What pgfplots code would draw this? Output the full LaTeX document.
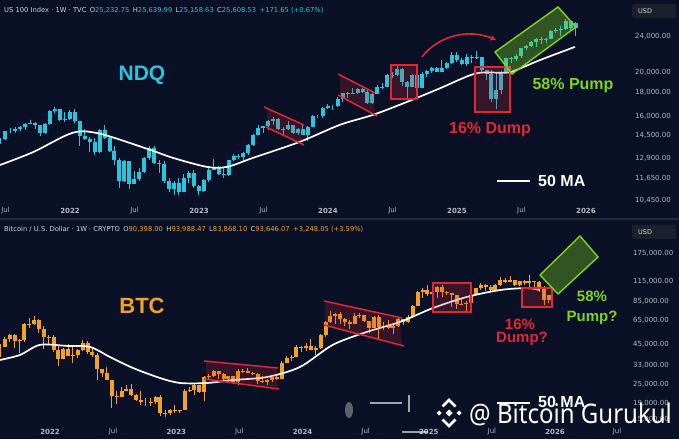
\documentclass[border=0pt]{standalone}
\usepackage{fontspec}
\setmainfont{DejaVu Sans}
\newfontfamily\arial{Liberation Sans}
\newfontfamily\noto{Noto Sans}
\usepackage{pgfplots}
\usepackage{pgfplotstable}
\pgfplotsset{compat=1.18}
\usetikzlibrary{arrows.meta}

\definecolor{bg}{RGB}{10,17,38}
\definecolor{ndq}{RGB}{44,196,218}
\definecolor{btc}{RGB}{242,162,38}
\definecolor{redc}{RGB}{224,40,52}
\definecolor{greenc}{RGB}{126,211,33}
\definecolor{hdr}{RGB}{209,212,220}
\definecolor{tickc}{RGB}{180,184,194}
\definecolor{sepc}{RGB}{40,44,58}
\definecolor{usdbg}{RGB}{28,32,44}

% NDX biweekly candles from Jun 2021: close, high, low
\pgfplotstableread{
c h l
14200 14300 13900
14800 14850 14150
14800 15050 14700
14960 15100 14650
15100 15200 14850
15380 15420 14900
15450 15700 15350
15240 15500 14950
14650 15250 14450
15350 15450 14600
16400 16450 15300
16570 16760 16200
15700 16600 15550
15750 16300 15500
16320 16500 15700
15600 16600 15400
14440 15600 13750
14250 15000 14150
14000 14400 13300
13300 14300 13100
14900 15000 13250
14300 15250 14200
13400 14400 13300
12800 13700 12450
11500 12950 11100
12700 12800 11450
11300 12700 11050
11600 12100 11300
12050 12250 11500
12950 13000 12000
13600 13700 12800
12600 13700 12550
12550 12800 11950
11500 12700 11400
11050 11700 10850
11400 11500 10700
10850 11700 10700
11680 11900 10850
12000 12100 11400
11200 12150 11100
10940 11250 10700
11540 11600 10850
12170 12250 11450
12300 12880 12150
11930 12400 11850
11830 12300 11700
12770 12800 11800
13060 13200 12700
12960 13200 12850
13240 13300 12750
13820 13900 13100
14550 14600 13750
15080 15280 14500
15180 15200 14700
15570 15700 14900
15750 15900 15300
15000 15800 14900
14940 15100 14550
15280 15550 14900
14700 15300 14600
15000 15050 14550
14540 15300 14500
15150 15200 14050
15990 16050 15100
15990 16100 15850
16620 16700 15850
16830 16970 16600
16830 16900 16500
17420 17600 16700
17960 18000 17200
17940 18100 17500
17960 18400 17900
18340 18460 17850
18100 18450 17950
17040 18300 16970
17890 17950 16950
18550 18700 17850
18540 18900 18300
19650 19750 18500
19680 20000 19400
20330 20700 19600
19020 20400 18600
18510 19100 17500
19720 19800 18500
18420 19900 18350
19800 19950 18400
20090 20200 19500
20360 20550 19900
20030 20550 19950
20390 21200 19950
20930 21000 20300
21780 22100 20800
21200 22150 21000
20850 21450 20700
21600 21900 20600
21490 21800 20900
21610 22230 21300
20200 21600 19900
19750 20200 19150
17400 20150 17200
18260 19900 16540
19990 20050 17900
21430 21500 19900
21340 21600 20900
21630 21850 21100
22530 22600 21500
22780 22900 22400
23270 23400 22700
23600 23700 22700
23500 23900 23000
23650 23800 23150
24630 24700 23600
24790 25000 24400
24820 25200 24000
25860 26180 24700
25010 26000 24700
25600 25700 24000
}\ndqdata

% BTC biweekly candles from Aug 2021: close, high, low
\pgfplotstableread{
c h l
43800 45300 37400
49300 50500 43800
51750 52900 46500
47300 52900 43000
48200 49200 39600
61500 62000 47000
61300 67000 58000
65000 69000 60000
57200 66000 53300
50100 59000 42000
50800 52000 45600
41800 51900 40600
36300 44000 33000
42400 42600 36200
38300 45800 38000
38400 45000 34300
41300 42300 37200
46400 48200 41000
40400 47400 39200
38500 42900 37600
31300 39900 26700
29400 31300 28000
26600 32400 26500
21000 26600 17600
20800 22500 18800
22600 24200 20800
23200 24600 22500
21500 25200 20900
19800 21800 19600
19400 22700 18500
19400 20300 18100
19200 20400 18200
20600 21000 18700
16300 21400 15600
16450 17200 15500
17100 17400 15900
16850 18400 16400
17130 17200 16300
22700 23300 17100
22900 24200 22300
24600 25200 21400
22400 24600 22000
28000 28500 19600
28200 29200 26600
30300 31000 27800
29200 30100 27000
26900 29800 25800
28100 28400 25900
25900 28200 25300
30500 31400 24900
30300 31500 29500
29800 31800 29600
29000 30200 28600
26100 29700 25200
25800 28100 25400
26500 26900 24900
27900 28000 26000
27100 28600 26600
34500 35200 26900
37100 37900 34100
37400 38400 35600
43800 44500 37400
43000 44000 40600
43900 45900 40800
41600 49000 41400
42600 43900 38500
51800 52800 42300
63100 64000 50600
68400 73800 62000
71300 71800 60800
65700 72700 61000
63100 67200 59600
61500 65000 56500
69300 71900 60700
69600 71900 66600
64200 70000 63400
58000 63800 53500
68200 68400 57600
58200 70000 49000
59500 62600 56200
57300 65000 57100
59200 60600 52600
65600 66500 58800
62900 66000 59800
67900 69500 62000
80400 81500 66800
97900 99600 80200
101100 104000 90500
95000 108300 92200
98400 99000 91800
106200 106600 89300
97600 109600 91200
96100 100000 94000
94300 95000 78200
82600 92800 76600
82500 88700 81500
83700 85900 74500
93800 95700 83100
104000 104900 93400
109000 111900 100800
105700 110500 100400
100900 108900 98200
109200 110500 100500
117900 123200 107000
114200 120000 112000
117500 124500 114000
108200 117600 107300
115300 116000 107300
112100 117900 108600
115200 126200 102000
114500 116400 103500
104700 116000 98900
86800 107500 80600
93600 94000 83800
}\btcdata

% open = previous close
\pgfplotstablecreatecol[create col/assign/.code={%
  \ifnum\pgfplotstablerow=0 \getthisrow{c}\tmpo\else\getprevrow{c}\tmpo\fi
  \pgfkeyslet{/pgfplots/table/create col/next content}\tmpo}]{o}{\ndqdata}
\pgfplotstablecreatecol[create col/assign/.code={%
  \ifnum\pgfplotstablerow=0 \getthisrow{c}\tmpo\else\getprevrow{c}\tmpo\fi
  \pgfkeyslet{/pgfplots/table/create col/next content}\tmpo}]{o}{\btcdata}

\begin{document}
\begin{tikzpicture}
\fill[bg] (0,0) rectangle (679pt,439pt);

% ---------- NDQ panel ----------
\begin{axis}[at={(0pt,236pt)}, anchor=south west,
  width=600pt, height=203pt, scale only axis, ymode=log,
  axis line style={draw=none}, tick style={draw=none},
  xmin=2021.457, xmax=2026.109, ymin=10285, ymax=28800,
  xtick={2021.5,2022,2022.5,2023,2023.5,2024,2024.5,2025,2025.5,2026},
  xticklabels={Jul,\textbf{2022},Jul,\textbf{2023},Jul,\textbf{2024},Jul,\textbf{2025},Jul,\textbf{2026}},
  xticklabel style={font=\fontsize{7}{8}\selectfont, text=tickc, anchor=center, yshift=-8pt},
  ytick={10450,11650,12900,14500,16000,18000,20000,24000},
  yticklabels={{10,450.00},{11,650.00},{12,900.00},{14,500.00},{16,000.00},{18,000.00},{20,000.00},{24,000.00}},
  yticklabel pos=right,
  yticklabel style={font=\fontsize{7}{8}\selectfont, text=tickc, anchor=west, inner sep=0pt, xshift=35pt},
]
\addplot[draw=none, mark=none, forget plot,
  error bars/.cd, y dir=plus, y explicit, error mark=none,
  error bar style={draw=ndq, line width=1pt}]
  table[x expr=2021.46+\coordindex/26, y=l, y error plus expr=\thisrow{h}-\thisrow{l}] {\ndqdata};
\addplot[draw=none, mark=none, forget plot,
  error bars/.cd, y dir=plus, y explicit, error mark=none,
  error bar style={draw=ndq, line width=4pt}]
  table[x expr=2021.46+\coordindex/26, y expr={min(\thisrow{o},\thisrow{c})}, y error plus expr={abs(\thisrow{c}-\thisrow{o})}] {\ndqdata};
\addplot[white, line width=1.7pt, smooth] coordinates {
(2021.457,12470) (2021.713,13310) (2022.023,14690) (2022.233,14610)
(2022.597,13540) (2022.798,12930) (2023.062,12350) (2023.217,12350)
(2023.419,12930) (2023.783,14030) (2024.093,15290) (2024.349,16080)
(2024.612,17170) (2024.868,18400) (2025.14,19820) (2025.333,19920)
(2025.426,20020) (2025.643,21230) (2025.915,22700)};
\end{axis}

% ---------- BTC panel ----------
\begin{axis}[at={(0pt,14pt)}, anchor=south west,
  width=600pt, height=203pt, scale only axis, ymode=log,
  axis line style={draw=none}, tick style={draw=none},
  xmin=2021.604, xmax=2026.356, ymin=13700, ymax=277000,
  xtick={2022,2022.5,2023,2023.5,2024,2024.5,2025,2025.5,2026},
  xticklabels={\textbf{2022},Jul,\textbf{2023},Jul,\textbf{2024},Jul,\textbf{2025},Jul,\textbf{2026}},
  xticklabel style={font=\fontsize{7}{8}\selectfont, text=tickc, anchor=center, yshift=-7pt},
  ytick={15000,19000,25000,33000,45000,65000,85000,115000,175000},
  yticklabels={{15,000.00},{19,000.00},{25,000.00},{33,000.00},{45,000.00},{65,000.00},{85,000.00},{115,000.00},{175,000.00}},
  yticklabel pos=right,
  yticklabel style={font=\fontsize{7}{8}\selectfont, text=tickc, anchor=west, inner sep=0pt, xshift=33pt},
]
\addplot[draw=none, mark=none, forget plot,
  error bars/.cd, y dir=plus, y explicit, error mark=none,
  error bar style={draw=btc, line width=1pt}]
  table[x expr=2021.605+\coordindex/26, y=l, y error plus expr=\thisrow{h}-\thisrow{l}] {\btcdata};
\addplot[draw=none, mark=none, forget plot,
  error bars/.cd, y dir=plus, y explicit, error mark=none,
  error bar style={draw=btc, line width=4pt}]
  table[x expr=2021.605+\coordindex/26, y expr={min(\thisrow{o},\thisrow{c})}, y error plus expr={abs(\thisrow{c}-\thisrow{o})}] {\btcdata};
\addplot[white, line width=1.7pt, smooth] coordinates {
(2021.604,35900) (2021.762,38650) (2021.921,44900) (2022.135,44200)
(2022.317,43500) (2022.475,37500) (2022.657,31880) (2022.871,27480)
(2023.03,25520) (2023.244,25520) (2023.45,26680) (2023.719,27880)
(2023.98,32360) (2024.24,44900) (2024.51,54400) (2024.772,63070)
(2025.034,77500) (2025.30,91200) (2025.564,101100) (2025.778,104100)
(2025.88,101100)};
\end{axis}

% ---------- annotations (pixel coordinates, y downwards) ----------
\begin{scope}[yshift=439pt, x=1pt, y=-1pt]
\fill[sepc] (0,218.5) rectangle (679,220.5);

\node[anchor=west, inner sep=0pt, font=\fontsize{6.75}{7}\selectfont, text=hdr] at (4,10)
 {US 100 Index · 1W · TVC\enspace O\textcolor{ndq}{25,232.75}\enspace H\textcolor{ndq}{25,639.99}\enspace L\textcolor{ndq}{25,158.63}\enspace C\textcolor{ndq}{25,608.53}\enspace\textcolor{ndq}{+171.65 (+0.67\%)}};
\node[anchor=west, inner sep=0pt, font=\fontsize{6.75}{7}\selectfont, text=hdr] at (4,229)
 {Bitcoin / U.S. Dollar · 1W · CRYPTO\enspace O\textcolor{btc}{90,398.00}\enspace H\textcolor{btc}{93,988.47}\enspace L\textcolor{btc}{83,868.10}\enspace C\textcolor{btc}{93,646.07}\enspace\textcolor{btc}{+3,248.05 (+3.59\%)}};

\fill[usdbg, rounded corners=1.5pt] (632,4) rectangle (676,18);
\node[anchor=west, inner sep=0pt, font=\fontsize{6.5}{7}\selectfont, text=hdr] at (638,11) {USD};
\fill[usdbg, rounded corners=1.5pt] (632,225) rectangle (676,239);
\node[anchor=west, inner sep=0pt, font=\fontsize{6.5}{7}\selectfont, text=hdr] at (638,232) {USD};
\node[font=\fontsize{7}{8}\selectfont, text=tickc] at (617,432) {Jul};

\node[font=\arial\bfseries\fontsize{21}{24}\selectfont, text=ndq] at (142,75) {NDQ};
\node[font=\arial\bfseries\fontsize{22}{24}\selectfont, text=btc] at (142,306) {BTC};

% top: red channels and boxes
\fill[redc, opacity=0.2] (267,109)--(303,125)--(303,145)--(267,128)--cycle;
\draw[redc, line width=1.5pt] (264,107)--(304,125) (266,127)--(304,145);
\fill[redc, opacity=0.2] (340,76)--(374,92)--(375,114)--(340,96)--cycle;
\draw[redc, line width=1.5pt] (338,74)--(375,93) (338,95)--(377,116);
\filldraw[draw=redc, fill=redc, fill opacity=0.22, line width=1.3pt] (391,65) rectangle (417,99);
\filldraw[draw=redc, fill=redc, fill opacity=0.22, line width=1.3pt] (475,67) rectangle (510,112);
\draw[redc, line width=1.6pt, -{Stealth[length=6pt,width=6pt]}] (422,57) .. controls (438,36) and (468,28) .. (496,40);
\filldraw[draw=greenc, fill=greenc, fill opacity=0.35, line width=1.4pt] (495,52)--(558,7)--(576,27)--(512,74)--cycle;
\node[font=\arial\bfseries\fontsize{16}{18}\selectfont, text=greenc] at (573,86) {58\% Pump};
\node[font=\arial\bfseries\fontsize{16}{18}\selectfont, text=redc] at (490,130) {16\% Dump};
\draw[white, line width=1.8pt] (497,181)--(530,181);
\node[anchor=west, inner sep=0pt, font=\arial\bfseries\fontsize{16}{18}\selectfont, text=white] at (538,181) {50 MA};

% bottom: red channels and boxes
\fill[redc, opacity=0.2] (206,362)--(277,368)--(278,388)--(206,379)--cycle;
\draw[redc, line width=1.5pt] (204,361)--(278,368) (204,379)--(279,389);
\fill[redc, opacity=0.2] (325,302)--(400,318)--(402,345)--(325,326)--cycle;
\draw[redc, line width=1.5pt] (324,301)--(402,318) (324,325)--(404,346);
\filldraw[draw=redc, fill=redc, fill opacity=0.22, line width=1.3pt] (433,283) rectangle (471,312);
\filldraw[draw=redc, fill=redc, fill opacity=0.22, line width=1.3pt] (522,288) rectangle (552,307);
\filldraw[draw=greenc, fill=greenc, fill opacity=0.35, line width=1.4pt] (540,275)--(580,236)--(598,257)--(558,294)--cycle;
\node[font=\arial\bfseries\fontsize{15}{17}\selectfont, text=greenc] at (592,296) {58\%};
\node[font=\arial\bfseries\fontsize{15}{17}\selectfont, text=greenc] at (592,318) {Pump?};
\node[font=\arial\bfseries\fontsize{15}{17}\selectfont, text=redc] at (520,324) {16\%};
\node[font=\arial\bfseries\fontsize{15}{17}\selectfont, text=redc] at (522,339) {Dump?};
\draw[white, line width=1.8pt] (497,403)--(530,403);
\node[anchor=west, inner sep=0pt, font=\arial\bfseries\fontsize{16}{18}\selectfont, text=white] at (538,402) {50 MA};

% erased remnants
\fill[gray!80, opacity=0.6] (349,410) ellipse (4 and 8);
\draw[gray!40, opacity=0.8, line width=2pt] (370,403)--(402,403);
\draw[gray!40, opacity=0.8, line width=1.5pt] (409,395)--(409,412);
\draw[white, opacity=0.6, line width=2.5pt] (402,432)--(428,432);

% watermark
\fill[white] (449,409.5)--(452.5,413)--(449,416.5)--(445.5,413)--cycle;
\fill[white] (439,410.5)--(441.5,413)--(439,415.5)--(436.5,413)--cycle;
\fill[white] (459,410.5)--(461.5,413)--(459,415.5)--(456.5,413)--cycle;
\draw[white, line width=2.6pt] (442.5,406.5)--(449,400)--(455.5,406.5);
\draw[white, line width=2.6pt] (442.5,419.5)--(449,426)--(455.5,419.5);
\node[anchor=base west, inner sep=0pt, font=\noto\fontsize{27}{30}\selectfont, text=white] at (469,423) {\scalebox{0.89}[1]{@ Bitcoin Gurukul}};
\end{scope}

\pgfresetboundingbox
\path[use as bounding box] (0,0) rectangle (679pt,439pt);
\end{tikzpicture}
\end{document}
